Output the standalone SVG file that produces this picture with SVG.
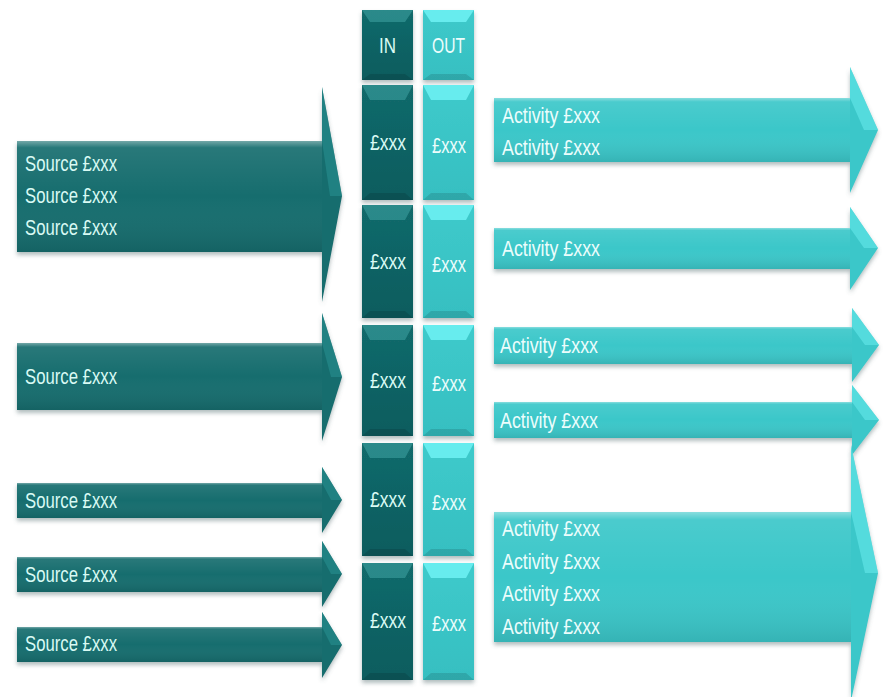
<svg xmlns="http://www.w3.org/2000/svg" width="896" height="697" viewBox="0 0 896 697">
<style>
  .t { font-family: 'Liberation Sans Narrow', 'Liberation Sans', Arial, sans-serif; font-size: 22px; }
  .src { fill: #136d6e; filter: url(#sh); }
  .act { fill: #3ac7c9; filter: url(#sh); }
  .tsrc { fill: #d9faf4; }
  .tact { fill: #ecfdfc; }
  .in { fill: url(#gin); filter: url(#sh); }
  .out { fill: url(#gout); filter: url(#sh); }
  .hl { fill: url(#hlg); }
  .bin { fill: #2f8f8f; opacity: 0.85; }
  .bout { fill: #6cf0f2; opacity: 0.9; }
  .bdk { fill: #000; opacity: 0.12; }
</style>
<defs>
  <filter id="sh" x="-10%" y="-10%" width="120%" height="130%">
    <feDropShadow dx="0" dy="3" stdDeviation="2" flood-color="#556b70" flood-opacity="0.45"/>
  </filter>
  <linearGradient id="hlg" x1="0" y1="0" x2="0" y2="1">
    <stop offset="0" stop-color="#ffffff" stop-opacity="0.4"/>
    <stop offset="0.06" stop-color="#ffffff" stop-opacity="0.08"/>
    <stop offset="0.5" stop-color="#ffffff" stop-opacity="0"/>
    <stop offset="1" stop-color="#000000" stop-opacity="0.1"/>
  </linearGradient>
  <linearGradient id="gin" x1="0" y1="0" x2="0" y2="1">
    <stop offset="0" stop-color="#126a6b"/>
    <stop offset="1" stop-color="#0c5c5e"/>
  </linearGradient>
  <linearGradient id="gout" x1="0" y1="0" x2="0" y2="1">
    <stop offset="0" stop-color="#3ecacb"/>
    <stop offset="1" stop-color="#36bfc1"/>
  </linearGradient>
</defs>
<rect width="896" height="697" fill="#ffffff"/>

<g id="connectors"></g>

<!-- Source arrows -->
<g id="source1">
  <path class="src" d="M17,141 L322,141 L322,87 L342,196 L322,302 L322,252 L17,252 Z"/>
  <rect class="hl" x="17" y="141" width="305" height="111"/>
  <polygon points="322,87 342,196 330,196 322,141" fill="#2a9595" opacity="0.5"/>
  <text class="t tsrc" x="25" y="171" textLength="92" lengthAdjust="spacingAndGlyphs">Source £xxx</text>
  <text class="t tsrc" x="25" y="203" textLength="92" lengthAdjust="spacingAndGlyphs">Source £xxx</text>
  <text class="t tsrc" x="25" y="235" textLength="92" lengthAdjust="spacingAndGlyphs">Source £xxx</text>
</g>
<g id="source2">
  <path class="src" d="M17,343 L322,343 L322,313 L342,377 L322,441 L322,410 L17,410 Z"/>
  <rect class="hl" x="17" y="343" width="305" height="67"/>
  <polygon points="322,313 342,377 331,377 322,343" fill="#2a9595" opacity="0.5"/>
  <text class="t tsrc" x="25" y="384" textLength="92" lengthAdjust="spacingAndGlyphs">Source £xxx</text>
</g>
<g id="source3">
  <path class="src" d="M17,483 L322,483 L322,467 L342,500 L322,533 L322,518 L17,518 Z"/>
  <rect class="hl" x="17" y="483" width="305" height="35"/>
  <polygon points="322,467 342,500 331,500 322,483" fill="#2a9595" opacity="0.5"/>
  <text class="t tsrc" x="25" y="508" textLength="92" lengthAdjust="spacingAndGlyphs">Source £xxx</text>
</g>
<g id="source4">
  <path class="src" d="M17,557 L322,557 L322,541 L342,574 L322,607 L322,592 L17,592 Z"/>
  <rect class="hl" x="17" y="557" width="305" height="35"/>
  <polygon points="322,541 342,574 331,574 322,557" fill="#2a9595" opacity="0.5"/>
  <text class="t tsrc" x="25" y="582" textLength="92" lengthAdjust="spacingAndGlyphs">Source £xxx</text>
</g>
<g id="source5">
  <path class="src" d="M17,627 L322,627 L322,612 L342,645 L322,678 L322,662 L17,662 Z"/>
  <rect class="hl" x="17" y="627" width="305" height="35"/>
  <polygon points="322,612 342,645 331,645 322,627" fill="#2a9595" opacity="0.5"/>
  <text class="t tsrc" x="25" y="651" textLength="92" lengthAdjust="spacingAndGlyphs">Source £xxx</text>
</g>

<!-- IN / OUT columns -->
<g id="in-header">
  <rect class="in" x="362" y="10" width="51" height="70"/>
  <polygon class="bin" points="362,10 413,10 405,22 370,22"/>
  <polygon class="bdk" points="362,80 413,80 405,74 370,74"/>
  <text class="t tsrc" x="387.5" y="53" text-anchor="middle" textLength="17" lengthAdjust="spacingAndGlyphs">IN</text>
</g>
<g id="out-header">
  <rect class="out" x="423" y="10" width="51" height="70"/>
  <polygon class="bout" points="423,10 474,10 466,22 431,22"/>
  <polygon class="bdk" points="423,80 474,80 466,74 431,74"/>
  <text class="t tact" x="448.5" y="53" text-anchor="middle" textLength="33" lengthAdjust="spacingAndGlyphs">OUT</text>
</g>

<g id="in1">
  <rect class="in" x="362" y="85" width="51" height="115"/>
  <polygon class="bin" points="362,85 413,85 405,100 370,100"/>
  <polygon class="bdk" points="362,200 413,200 405,193 370,193"/>
  <text class="t tsrc" x="388" y="150" text-anchor="middle" textLength="36" lengthAdjust="spacingAndGlyphs">£xxx</text>
</g>
<g id="out1">
  <rect class="out" x="423" y="85" width="51" height="115"/>
  <polygon class="bout" points="423,85 474,85 466,100 431,100"/>
  <polygon class="bdk" points="423,200 474,200 466,193 431,193"/>
  <text class="t tact" x="449" y="153" text-anchor="middle" textLength="34" lengthAdjust="spacingAndGlyphs">£xxx</text>
</g>
<g id="in2">
  <rect class="in" x="362" y="205" width="51" height="113"/>
  <polygon class="bin" points="362,205 413,205 405,220 370,220"/>
  <polygon class="bdk" points="362,318 413,318 405,311 370,311"/>
  <text class="t tsrc" x="388" y="269" text-anchor="middle" textLength="36" lengthAdjust="spacingAndGlyphs">£xxx</text>
</g>
<g id="out2">
  <rect class="out" x="423" y="205" width="51" height="113"/>
  <polygon class="bout" points="423,205 474,205 466,220 431,220"/>
  <polygon class="bdk" points="423,318 474,318 466,311 431,311"/>
  <text class="t tact" x="449" y="272" text-anchor="middle" textLength="34" lengthAdjust="spacingAndGlyphs">£xxx</text>
</g>
<g id="in3">
  <rect class="in" x="362" y="325" width="51" height="111"/>
  <polygon class="bin" points="362,325 413,325 405,340 370,340"/>
  <polygon class="bdk" points="362,436 413,436 405,429 370,429"/>
  <text class="t tsrc" x="388" y="388" text-anchor="middle" textLength="36" lengthAdjust="spacingAndGlyphs">£xxx</text>
</g>
<g id="out3">
  <rect class="out" x="423" y="325" width="51" height="111"/>
  <polygon class="bout" points="423,325 474,325 466,340 431,340"/>
  <polygon class="bdk" points="423,436 474,436 466,429 431,429"/>
  <text class="t tact" x="449" y="391" text-anchor="middle" textLength="34" lengthAdjust="spacingAndGlyphs">£xxx</text>
</g>
<g id="in4">
  <rect class="in" x="362" y="443" width="51" height="113"/>
  <polygon class="bin" points="362,443 413,443 405,458 370,458"/>
  <polygon class="bdk" points="362,556 413,556 405,549 370,549"/>
  <text class="t tsrc" x="388" y="507" text-anchor="middle" textLength="36" lengthAdjust="spacingAndGlyphs">£xxx</text>
</g>
<g id="out4">
  <rect class="out" x="423" y="443" width="51" height="113"/>
  <polygon class="bout" points="423,443 474,443 466,458 431,458"/>
  <polygon class="bdk" points="423,556 474,556 466,549 431,549"/>
  <text class="t tact" x="449" y="510" text-anchor="middle" textLength="34" lengthAdjust="spacingAndGlyphs">£xxx</text>
</g>
<g id="in5">
  <rect class="in" x="362" y="563" width="51" height="117"/>
  <polygon class="bin" points="362,563 413,563 405,578 370,578"/>
  <polygon class="bdk" points="362,680 413,680 405,673 370,673"/>
  <text class="t tsrc" x="388" y="628" text-anchor="middle" textLength="36" lengthAdjust="spacingAndGlyphs">£xxx</text>
</g>
<g id="out5">
  <rect class="out" x="423" y="563" width="51" height="117"/>
  <polygon class="bout" points="423,563 474,563 466,578 431,578"/>
  <polygon class="bdk" points="423,680 474,680 466,673 431,673"/>
  <text class="t tact" x="449" y="631" text-anchor="middle" textLength="34" lengthAdjust="spacingAndGlyphs">£xxx</text>
</g>

<!-- Activity arrows -->
<g id="activity1">
  <path class="act" d="M494,98 L850,98 L850,67 L878,130 L850,193 L850,162 L494,162 Z"/>
  <rect class="hl" x="494" y="98" width="356" height="64"/>
  <polygon points="850,67 878,130 864,130 850,98" fill="#6ef0f2" opacity="0.5"/>
  <text class="t tact" x="502" y="123" textLength="98" lengthAdjust="spacingAndGlyphs">Activity £xxx</text>
  <text class="t tact" x="502" y="155" textLength="98" lengthAdjust="spacingAndGlyphs">Activity £xxx</text>
</g>
<g id="activity2">
  <path class="act" d="M494,228 L850,228 L850,207 L878,248 L850,290 L850,269 L494,269 Z"/>
  <rect class="hl" x="494" y="228" width="356" height="41"/>
  <polygon points="850,207 878,248 864,248 850,228" fill="#6ef0f2" opacity="0.5"/>
  <text class="t tact" x="502" y="256" textLength="98" lengthAdjust="spacingAndGlyphs">Activity £xxx</text>
</g>
<g id="activity3">
  <path class="act" d="M494,327 L852,327 L852,308 L879,345 L852,382 L852,364 L494,364 Z"/>
  <rect class="hl" x="494" y="327" width="358" height="37"/>
  <polygon points="852,308 879,345 865,345 852,327" fill="#6ef0f2" opacity="0.5"/>
  <text class="t tact" x="500" y="353" textLength="98" lengthAdjust="spacingAndGlyphs">Activity £xxx</text>
</g>
<g id="activity4">
  <path class="act" d="M494,402 L852,402 L852,385 L879,420 L852,455 L852,438 L494,438 Z"/>
  <rect class="hl" x="494" y="402" width="358" height="36"/>
  <polygon points="852,385 879,420 865,420 852,402" fill="#6ef0f2" opacity="0.5"/>
  <text class="t tact" x="500" y="428" textLength="98" lengthAdjust="spacingAndGlyphs">Activity £xxx</text>
</g>
<g id="activity5">
  <path class="act" d="M494,512 L851,512 L851,445 L878,573 L851,701 L851,642 L494,642 Z"/>
  <rect class="hl" x="494" y="512" width="357" height="130"/>
  <polygon points="851,445 878,573 865,573 851,512" fill="#6ef0f2" opacity="0.5"/>
  <text class="t tact" x="502" y="536" textLength="98" lengthAdjust="spacingAndGlyphs">Activity £xxx</text>
  <text class="t tact" x="502" y="569" textLength="98" lengthAdjust="spacingAndGlyphs">Activity £xxx</text>
  <text class="t tact" x="502" y="601" textLength="98" lengthAdjust="spacingAndGlyphs">Activity £xxx</text>
  <text class="t tact" x="502" y="634" textLength="98" lengthAdjust="spacingAndGlyphs">Activity £xxx</text>
</g>
</svg>
